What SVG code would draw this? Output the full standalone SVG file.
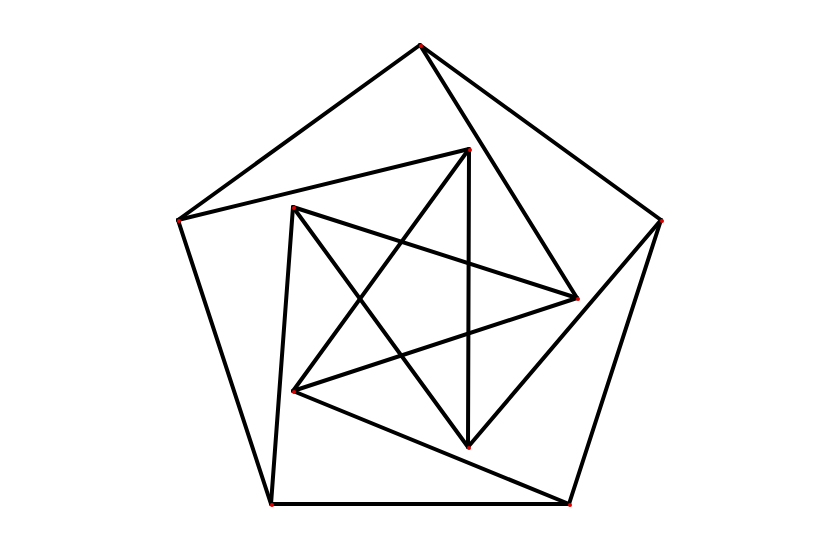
<svg xmlns="http://www.w3.org/2000/svg" width="840" height="548" viewBox="0 0 840 548">
<style>
.e{stroke:#000;stroke-width:4;fill:none;stroke-linecap:round}
.v{fill:#e00000}
</style>
<rect width="840" height="548" fill="#fff"/>
<g id="edges">
<line class="e" x1="420" y1="45" x2="661" y2="220"/>
<line class="e" x1="661" y1="220" x2="569" y2="504"/>
<line class="e" x1="569" y1="504" x2="271" y2="504"/>
<line class="e" x1="271" y1="504" x2="178" y2="220"/>
<line class="e" x1="178" y1="220" x2="420" y2="45"/>
<line class="e" x1="420" y1="45" x2="577" y2="298"/>
<line class="e" x1="661" y1="220" x2="468" y2="447"/>
<line class="e" x1="569" y1="504" x2="293" y2="391"/>
<line class="e" x1="271" y1="504" x2="293" y2="207"/>
<line class="e" x1="178" y1="220" x2="469" y2="149"/>
<line class="e" x1="469" y1="149" x2="468" y2="447"/>
<line class="e" x1="469" y1="149" x2="293" y2="391"/>
<line class="e" x1="293" y1="207" x2="577" y2="298"/>
<line class="e" x1="293" y1="207" x2="468" y2="447"/>
<line class="e" x1="577" y1="298" x2="293" y2="391"/>
</g>
<g id="n1"><circle class="v" cx="421" cy="46" r="2"/></g>
<g id="n2"><circle class="v" cx="662" cy="221" r="2"/></g>
<g id="n3"><circle class="v" cx="570" cy="505" r="2"/></g>
<g id="n4"><circle class="v" cx="272" cy="505" r="2"/></g>
<g id="n5"><circle class="v" cx="179" cy="221" r="2"/></g>
<g id="n6"><circle class="v" cx="470" cy="150" r="2"/></g>
<g id="n7"><circle class="v" cx="578" cy="299" r="2"/></g>
<g id="n8"><circle class="v" cx="469" cy="448" r="2"/></g>
<g id="n9"><circle class="v" cx="294" cy="392" r="2"/></g>
<g id="n10"><circle class="v" cx="294" cy="208" r="2"/></g>
</svg>
